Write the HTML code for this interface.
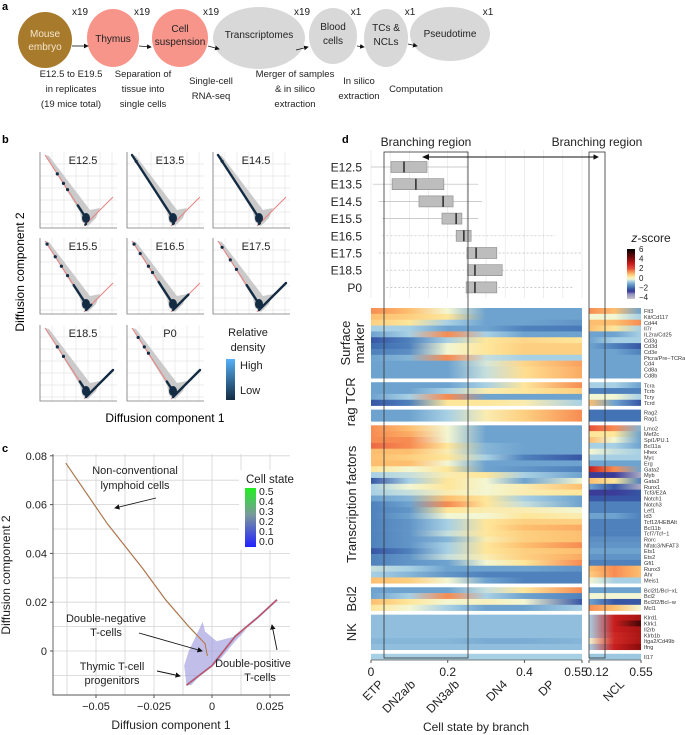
<!DOCTYPE html>
<html><head><meta charset="utf-8">
<style>
html,body{margin:0;padding:0;background:#fff;}
svg{display:block;font-family:"Liberation Sans",sans-serif;}
</style></head>
<body>
<svg id="fig" width="685" height="735" viewBox="0 0 685 735" xmlns="http://www.w3.org/2000/svg">
<defs>
<marker id="ah" markerWidth="6" markerHeight="6" refX="5" refY="3" orient="auto"><path d="M0,0 L6,3 L0,6 z" fill="#111"/></marker>
<linearGradient id="densGrad" x1="0" y1="0" x2="0" y2="1"><stop offset="0" stop-color="#56b1f7"/><stop offset="1" stop-color="#132b43"/></linearGradient>
<linearGradient id="stateGrad" x1="0" y1="0" x2="0" y2="1"><stop offset="0" stop-color="#22ee22"/><stop offset="0.45" stop-color="#7a9a9a"/><stop offset="1" stop-color="#2222ff"/></linearGradient>
</defs>

<g font-weight="bold" font-size="11" fill="#000">
<text x="2" y="10">a</text>
<text x="2" y="143">b</text>
<text x="2" y="452">c</text>
<text x="342" y="143">d</text>
</g>

<g id="panelA" font-size="10" text-anchor="middle" fill="#222">
<ellipse cx="45" cy="40" rx="27" ry="28" fill="#a87a2c"/>
<text x="45" y="37" fill="#f4e6cc">Mouse</text><text x="45" y="50" fill="#f4e6cc">embryo</text>
<ellipse cx="113" cy="38" rx="26" ry="29" fill="#f7958b"/>
<text x="113" y="42">Thymus</text>
<ellipse cx="180" cy="38" rx="28" ry="29" fill="#f7958b"/>
<text x="180" y="32">Cell</text><text x="180" y="45">suspension</text>
<ellipse cx="259" cy="38" rx="46" ry="31" fill="#d8d8d8"/>
<text x="259" y="38">Transcriptomes</text>
<ellipse cx="333" cy="36" rx="24" ry="28" fill="#d8d8d8"/>
<text x="333" y="30">Blood</text><text x="333" y="44">cells</text>
<ellipse cx="386" cy="38" rx="22" ry="29" fill="#d8d8d8"/>
<text x="386" y="31">TCs &amp;</text><text x="386" y="45">NCLs</text>
<ellipse cx="450" cy="34" rx="40" ry="27" fill="#d8d8d8"/>
<text x="450" y="37">Pseudotime</text>
<g font-size="10"><text x="80" y="15">x19</text><text x="142" y="15">x19</text><text x="211" y="15">x19</text><text x="302" y="15">x19</text><text x="356" y="15">x1</text><text x="410" y="15">x1</text><text x="488" y="15">x1</text></g>
<g stroke="#111" stroke-width="0.8" marker-end="url(#ah)">
<line x1="72" y1="46" x2="88" y2="46"/><line x1="139" y1="46" x2="151" y2="47"/><line x1="208" y1="46" x2="219" y2="49"/><line x1="296" y1="50" x2="308" y2="47"/><line x1="357" y1="46" x2="364" y2="47"/><line x1="408" y1="44" x2="417" y2="46"/>
</g>
<g font-size="9.5">
<text x="71" y="77">E12.5 to E19.5</text><text x="71" y="92">in replicates</text><text x="71" y="107">(19 mice total)</text>
<text x="143" y="77">Separation of</text><text x="143" y="92">tissue into</text><text x="143" y="107">single cells</text>
<text x="211" y="84">Single-cell</text><text x="211" y="99">RNA-seq</text>
<text x="295" y="77">Merger of samples</text><text x="295" y="92">&amp; in silico</text><text x="295" y="107">extraction</text>
<text x="359" y="84">In silico</text><text x="359" y="99">extraction</text>
<text x="416" y="92">Computation</text>
</g>
</g>

<g id="panelB"></g>
<text x="24" y="272" font-size="12" text-anchor="middle" transform="rotate(-90 24 272)">Diffusion component 2</text>
<text x="165" y="422" font-size="12" text-anchor="middle">Diffusion component 1</text>
<g font-size="11" fill="#222">
<text x="248" y="336" text-anchor="middle">Relative</text><text x="248" y="351" text-anchor="middle">density</text>
<rect x="226" y="359" width="9" height="41" fill="url(#densGrad)"/>
<text x="240" y="369">High</text><text x="240" y="394">Low</text>
</g>

<g id="panelC"></g>
<g id="panelD"></g>
</svg>

<script>
// ---------- Panel b data ----------
const facetNames = ["E12.5","E13.5","E14.5","E15.5","E16.5","E17.5","E18.5","P0"];
const facetNclDense = [0.2, 1.0, 1.0, 0.3, 0.35, 0.3, 0.15, 0.15];
const facetDpDense = [0.05, 0.1, 0.1, 0.25, 0.6, 1.0, 1.0, 1.0];
const facetNclDots = [[0.45,0.55,0.7],[0.9],[0.9],[0.45,0.6,0.75,0.95],[0.5,0.6,0.8,0.95],[0.55,0.7,0.9],[0.55,0.7],[0.6,0.7,0.85]];

// ---------- Panel c data ----------
const nclLineX = [-0.063,-0.045,-0.030,-0.020,-0.010,-0.003,-0.002];
const nclLineY = [0.077,0.052,0.034,0.021,0.010,0.003,-0.002];
const dpLineX = [-0.011,0.000,0.010,0.020,0.028];
const dpLineY = [-0.014,-0.006,0.006,0.014,0.021];
const cloudX = [-0.011,-0.012,-0.010,-0.007,-0.004,-0.003,0.002,0.010,0.015,0.010,0.003,-0.005,-0.009];
const cloudY = [-0.014,-0.006,0.0,0.006,0.012,0.008,0.004,0.006,0.009,0.004,-0.004,-0.010,-0.014];
const cXTicks = [-0.05,-0.025,0,0.025];
const cXTickLabels = ["\u22120.05","\u22120.025","0","0.025"];
const cYTicks = [0,0.02,0.04,0.06,0.08];
const cYTickLabels = ["0","0.02","0.04","0.06","0.08"];
const stateTicks = ["0.5","0.4","0.3","0.2","0.1","0.0"];

// ---------- Panel d data ----------
const boxSamples = ["E12.5","E13.5","E14.5","E15.5","E16.5","E17.5","E18.5","P0"];
const boxQ1 = [0.052,0.055,0.125,0.185,0.222,0.250,0.252,0.248];
const boxMed = [0.086,0.117,0.188,0.222,0.242,0.274,0.271,0.271];
const boxQ3 = [0.146,0.190,0.214,0.237,0.261,0.328,0.342,0.328];
const boxMin = [0.0,0.005,0.02,0.03,0.03,0.02,0.04,0.04];
const boxMax = [0.253,0.28,0.29,0.28,0.48,0.55,0.55,0.53];
const stateStops = [0,0.1,0.2,0.3,0.4,0.55];
const nclStops = [0.12,0.33,0.55];
const geneGroups = ["Surface marker","rag TCR","Transcription factors","Bcl2","NK",""];
const genes = [
["Flt3","Kit/Cd117","Cd44","Il7r","IL2ra/Cd25","Cd3g","Cd3d","Cd3e","Ptcra/Pre\u2212TCRa","Cd4","Cd8a","Cd8b"],
["Tcra","Tcrb","Tcry","Tcrd","Rag2","Rag1"],
["Lmo2","Mef2c","Spi1/PU.1","Bcl11a","Hhex","Myc","Erg","Gata2","Myb","Gata3","Runx1","Tcf3/E2A","Notch1","Notch3","Lef1","Id3","Tcf12/HEBAlt","Bcl11b","Tcf7/Tcf\u22121","Rorc","Nfatc3/NFAT3","Ets1","Ets2","Gfi1","Runx3","Ahr","Meis1"],
["Bcl2l1/Bcl\u2212xL","Bcl2","Bcl2l2/Bcl\u2212w","Mcl1"],
["Klrd1","Klrk1","Il2rb","Klrb1b","Itga2/Cd49b","Ifng"],
["Il17"]];
const zMain = [
[[1.5,1,0,-1,-1,-1],[1,0.8,0.5,-1,-1,-1],[0.8,0.5,-0.5,-1,-1,-1.2],[-0.5,-0.5,-1,-1,-1.5,-1.6],[-1,-0.5,1.5,-0.5,-1,-1],[-2,-1.5,-0.5,0.5,0.7,0.5],[-1.8,-1.5,0,0.5,0.8,0.8],[-1.5,-1.3,0,0.5,0.8,0.8],[-1,-0.8,1.5,-0.3,-0.5,-0.5],[-1,-1,-1,-0.2,0.7,1.3],[-1,-1,-1,-0.3,0.6,1.2],[-1,-1,-1,-0.3,0.6,1.2]],
[[-1,-1,-1,-0.5,0.5,1.5],[-1,-1,-0.5,0.3,0.5,0.8],[-1,-0.5,1.5,-1,-1,-1],[-2,-1.5,0.5,0.5,0.3,-0.5],[-1,-1,-0.5,0.3,0.8,1.5],[-1,-1,-0.5,0.3,0.8,1.5]],
[[1.5,1,0,-1,-1,-1],[1.5,1.2,0,-1,-1,-1],[1.5,1.5,0,-1,-1,-1],[1.8,1.5,0.5,-0.8,-1,-1],[1,1,0.3,-0.8,-1,-1],[1,0.8,0.5,-0.5,-1.5,-2],[1,1,0,-1,-1,-1],[0.5,0,0.5,-1,-1.2,-1.5],[-0.5,-0.3,0.3,0.5,-0.5,-1],[-2,-0.5,0.5,0,-1,0],[-0.5,0,0.5,0,0.3,1],[-0.5,-0.3,0.3,0,0.3,0.5],[-1,-0.8,1,0.5,-0.5,-1],[-1.5,-1,1.5,0.5,-0.3,-1],[-1.5,-1.2,0.5,0.3,0.3,0],[-1.5,-1,0,0,0.5,0.3],[-1.5,-1.2,-0.5,0.5,0.8,0.8],[-1.5,-1.2,-0.5,0.5,1,1.2],[-1.5,-1.2,-0.3,0.5,0.8,1],[-1.5,-1.2,-0.8,0.3,0.8,1],[-1.5,-1.2,-0.5,0.5,1,1.5],[-2,-1.5,-0.5,0.5,0.8,1],[-1.5,-1.2,-0.3,0.3,0.8,1.2],[-1.5,-1.2,-1,0,0.5,1.5],[-0.3,-0.5,-1,-1,-1,-1.2],[-0.5,-0.8,-1.2,-1.5,-1.5,-1.5],[1,0.8,0,-1,-1.5,-1.5]],
[[-1,-1,-1,-0.3,0.5,1.5],[-1,-0.5,1.5,-0.5,-1,-1.5],[1,0.5,0,0.2,0,-2],[0.5,0,-0.5,-1,-1,-0.5]],
[[-0.7,-0.7,-0.7,-0.7,-0.7,-0.7],[-0.7,-0.7,-0.7,-0.7,-0.7,-0.7],[-0.7,-0.7,-0.7,-0.7,-0.7,-0.7],[-0.7,-0.7,-0.7,-0.7,-0.7,-0.7],[-0.8,-0.8,-0.8,-0.9,-0.9,-0.8],[-0.7,-0.7,-0.7,-0.7,-0.7,-0.7]],
[[-0.5,-0.5,-0.5,-0.5,-0.5,-0.5]]];
const zNcl = [
[[1.5,1,-1],[0,0,-0.5],[1,1,1.5],[1,0.5,-0.5],[-1,-1,-0.5],[-1,-0.5,-0.5],[-1,-1.5,-2],[-1,-1,-1.5],[-1,-1,-1],[-1,-1,-1],[-1,-1,-1],[-1,-1,-1]],
[[-0.5,-0.5,-1],[-1.5,-1.5,-1.5],[0,0,-0.5],[1,-1,-2],[-1.7,-1.7,-1.7],[-1.7,-1.7,-1.7]],
[[2,1.5,-0.8],[0.5,0.5,-1],[1,0,-1],[-0.5,-0.5,-1],[0,-0.3,-0.5],[-0.5,-0.5,-0.5],[-1,-1,-1],[3,1.5,-1],[-2.5,-2.5,-3.5],[1,0.5,-1.5],[-1,-2,-3.5],[-2.5,-2.5,-2],[-2,-2,-2],[-1.5,-1.5,-1.5],[-1.5,-1.5,-1.5],[-1,-1,-1.5],[-1.5,-1.5,-1.5],[-1.5,-1.5,-1.5],[-1.5,-1.5,-1.5],[-1.3,-1.3,-1.3],[-1.2,-1.2,-1.2],[-1,-1,-1],[-1.2,-1.2,-1.2],[-1.5,-1.5,-1.5],[1,1.5,1],[0.8,1.5,1],[0,-0.5,-0.5]],
[[-1,-1,-1],[0,0,0],[-1,-2,-2],[1.5,1,0]],
[[-0.5,3,3.5],[-0.5,3,5],[-0.5,3,3.5],[-0.5,2.8,3.5],[0,2.8,3.5],[-0.5,3,4]],
[[-0.6,-0.6,-0.6]]];
const zLegendTicks = [6,4,2,0,-2,-4];
const dAxisTicks = [0,0.2,0.4,0.55];
const dAxisLabels = ["0","0.2","0.4","0.55"];
const nclAxisTicks = [0.12,0.55];
const stageLabels = ["ETP","DN2a/b","DN3a/b","DN4","DP","NCL"];

const NS="http://www.w3.org/2000/svg";
function mk(tag, attrs, parent){const e=document.createElementNS(NS,tag);for(const k in attrs)e.setAttribute(k,attrs[k]);parent.appendChild(e);return e;}

// ===== Panel b =====
(function(){
  const g=document.getElementById('panelB');
  const colX=[40,127,213], rowY=[152,238,325], W=77, H=76;
  facetNames.forEach((nm,i)=>{
    const ox=colX[i%3], oy=rowY[Math.floor(i/3)];
    const fg=mk('g',{},g);
    
    
    for(let k=1;k<7;k++){
      mk('line',{x1:ox+k*12,y1:oy,x2:ox+k*12,y2:oy+H,stroke:'#e4e4e4','stroke-width':0.7},fg);
      mk('line',{x1:ox,y1:oy+k*12,x2:ox+W,y2:oy+k*12,stroke:'#e4e4e4','stroke-width':0.7},fg);
    }
    mk('path',{d:`M${ox} ${oy} V${oy+H} H${ox+W}`,fill:'none',stroke:'#777','stroke-width':0.8},fg);
    const tip=[ox+5,oy+3], vtx=[ox+46,oy+66], dps=[ox+44,oy+74], dpt=[ox+73,oy+45];
    mk('path',{d:`M${tip[0]} ${tip[1]} L${ox+9} ${oy+4} L${ox+50} ${oy+58} L${ox+60} ${oy+56} L${ox+56} ${oy+66} L${ox+48} ${oy+74} L${ox+42} ${oy+70} L${ox+40} ${oy+60} Z`,fill:'#cacaca'},fg);
    mk('line',{x1:tip[0],y1:tip[1],x2:vtx[0],y2:vtx[1],stroke:'#e88080','stroke-width':1},fg);
    mk('line',{x1:dps[0],y1:dps[1],x2:dpt[0],y2:dpt[1],stroke:'#e88080','stroke-width':1},fg);
    const nd=facetNclDense[i];
    mk('line',{x1:vtx[0],y1:vtx[1],x2:vtx[0]+(tip[0]-vtx[0])*nd,y2:vtx[1]+(tip[1]-vtx[1])*nd,stroke:'#132b43','stroke-width':2.4,'stroke-linecap':'round'},fg);
    const dd=facetDpDense[i];
    mk('line',{x1:dps[0]+2,y1:dps[1]-2,x2:dps[0]+(dpt[0]-dps[0])*dd,y2:dps[1]+(dpt[1]-dps[1])*dd,stroke:'#132b43','stroke-width':2.4,'stroke-linecap':'round'},fg);
    mk('ellipse',{cx:ox+46,cy:oy+66,rx:4,ry:5,fill:'#132b43'},fg);
    facetNclDots[i].forEach(t=>{
      mk('circle',{cx:vtx[0]+(tip[0]-vtx[0])*t,cy:vtx[1]+(tip[1]-vtx[1])*t,r:1.6,fill:'#132b43'},fg);
    });
    const tt=mk('text',{x:ox+43,y:oy+12,'font-size':11,'text-anchor':'middle',fill:'#222'},fg);
    tt.textContent=nm;
    
    
  });
})();

// ===== Panel c =====
(function(){
  const g=document.getElementById('panelC');
  const L=53,R=290,T=454,B=695;
  const sx=v=>212+v*2320, sy=v=>651-v*2440;
  for(let v=-0.0625;v<=0.03;v+=0.0125){mk('line',{x1:sx(v),y1:T,x2:sx(v),y2:B,stroke:'#d4d4d4','stroke-width':0.8},g);}
  for(let v=-0.01;v<=0.08;v+=0.01){mk('line',{x1:L,y1:sy(v),x2:R,y2:sy(v),stroke:'#d4d4d4','stroke-width':0.8},g);}
  const ax=mk('path',{d:`M${L} ${T} V${B} H${R}`,fill:'none',stroke:'#555','stroke-width':0.9},g);
  
  
  cXTicks.forEach((v,i)=>{
    mk('line',{x1:sx(v),y1:B,x2:sx(v),y2:B+3,stroke:'#555'},g);
    const t=mk('text',{x:sx(v),y:B+15,'font-size':11,'text-anchor':'middle',fill:'#222'},g);t.textContent=cXTickLabels[i];
    
    
  });
  cYTicks.forEach((v,i)=>{
    mk('line',{x1:L-3,y1:sy(v),x2:L,y2:sy(v),stroke:'#555'},g);
    const t=mk('text',{x:L-6,y:sy(v)+4,'font-size':11,'text-anchor':'end',fill:'#222'},g);t.textContent=cYTickLabels[i];
    
    
  });
  const cp=mk('polygon',{points:cloudX.map((x,i)=>sx(x)+','+sy(cloudY[i])).join(' '),fill:'#9893dc',opacity:0.6},g);
  
  
  const nl=mk('polyline',{points:nclLineX.map((x,i)=>sx(x)+','+sy(nclLineY[i])).join(' '),fill:'none',stroke:'#8ccc8c','stroke-width':1.4},g);
  
  
  mk('polyline',{points:nclLineX.map((x,i)=>sx(x)+','+sy(nclLineY[i])).join(' '),fill:'none',stroke:'#ee3333','stroke-width':0.6},g);
  const dl=mk('polyline',{points:dpLineX.map((x,i)=>sx(x)+','+sy(dpLineY[i])).join(' '),fill:'none',stroke:'#7a9fb0','stroke-width':2},g);
  
  
  mk('polyline',{points:dpLineX.map((x,i)=>sx(x)+','+sy(dpLineY[i])).join(' '),fill:'none',stroke:'#ee3355','stroke-width':1},g);
  const yt=mk('text',{x:10,y:575,'font-size':12,'text-anchor':'middle',transform:'rotate(-90 10 575)',fill:'#222'},g);yt.textContent='Diffusion component 2';
  
  
  const xt=mk('text',{x:171,y:729,'font-size':12,'text-anchor':'middle',fill:'#222'},g);xt.textContent='Diffusion component 1';
  
  
  const lg=mk('g',{},g);
  
  
  mk('rect',{x:239,y:470,width:52,height:80,fill:'#fff'},lg);
  const lt=mk('text',{x:246,y:483,'font-size':11.5,fill:'#222'},lg);lt.textContent='Cell state';
  mk('rect',{x:245,y:488,width:11,height:59,fill:'url(#stateGrad)'},lg);
  stateTicks.forEach((s,i)=>{const t=mk('text',{x:259,y:495+i*10,'font-size':10.5,fill:'#222'},lg);t.textContent=s;});
  const ann=[[135,474,'Non-conventional'],[135,489,'lymphoid cells'],[106,622,'Double-negative'],[106,636,'T-cells'],[112,670,'Thymic T-cell'],[112,684,'progenitors'],[253,667,'Double-positive'],[260,681,'T-cells']];
  ann.forEach(a=>{const t=mk('text',{x:a[0],y:a[1],'font-size':11,'text-anchor':'middle',fill:'#222'},g);t.textContent=a[2];
    
    });
  [[156,498,115,508],[139,633,202,651],[157,671,180,676],[277,650,272,625]].forEach(a=>{
    mk('line',{x1:a[0],y1:a[1],x2:a[2],y2:a[3],stroke:'#111','stroke-width':0.9,'marker-end':'url(#ah)'},g);
  });
})();

// ===== Panel d =====
(function(){
  const g=document.getElementById('panelD');
  const x0=371, sc=383.6, sx=v=>x0+v*sc;
  const nx0=589, nsc=(641-589)/(0.55-0.12), nx=v=>nx0+(v-0.12)*nsc;
  const cmapV=[-4,-3,-2.4,-1.8,-1,-0.5,0,0.5,1,1.5,2,3,4,6];
  const cmapC=['#c6c6c6','#8e8ec2','#2a2a90','#3d6cb0','#6ea3cf','#a8d0e4','#f3f6d2','#fee69a','#fdbf6f','#f78c52','#e6523a','#c81e1e','#8a0c0c','#000000'];
  function hex2(c){return [1,3,5].map(i=>parseInt(c.substr(i,2),16));}
  function cmap(z){
    if(z<=cmapV[0])return cmapC[0];
    for(let i=1;i<cmapV.length;i++){if(z<=cmapV[i]){const t=(z-cmapV[i-1])/(cmapV[i]-cmapV[i-1]);const a=hex2(cmapC[i-1]),b=hex2(cmapC[i]);return 'rgb('+a.map((v,k)=>Math.round(v+(b[k]-v)*t)).join(',')+')';}}
    return cmapC[cmapC.length-1];
  }
  const defs=document.querySelector('defs');
  for(let v=0;v<=0.55;v+=0.05){mk('line',{x1:sx(v),y1:150,x2:sx(v),y2:298,stroke:'#e6e6e6','stroke-width':0.7},g);}
  const bRowY=i=>167+i*17.2;
  boxSamples.forEach((s,i)=>{
    const y=bRowY(i);
    const bg=mk('g',{},g);
    
    
    mk('line',{x1:sx(boxMin[i]),y1:y,x2:sx(boxMax[i]),y2:y,stroke:'#bbb','stroke-width':0.7,'stroke-dasharray':i>=4?'2 2':'none'},bg);
    mk('rect',{x:sx(boxQ1[i]),y:y-5.5,width:sx(boxQ3[i])-sx(boxQ1[i]),height:11,fill:'#bdbdbd',stroke:'#888','stroke-width':0.6},bg);
    mk('line',{x1:sx(boxMed[i]),y1:y-5.5,x2:sx(boxMed[i]),y2:y+5.5,stroke:'#333','stroke-width':1.6},bg);
    const t=mk('text',{x:362,y:y+4.5,'font-size':12,'text-anchor':'end',fill:'#222'},g);t.textContent=s;
    
    
  });
  let y=308; const rh=5.85; let gid=0;
  const groupStarts=[];
  genes.forEach((grp,gi)=>{
    const gs=y;
    grp.forEach((gn,ri)=>{
      const zm=zMain[gi][ri], zn=zNcl[gi][ri];
      const id1='hg'+(gid++), id2='hg'+(gid++);
      const lg1=mk('linearGradient',{id:id1,x1:0,y1:0,x2:1,y2:0},defs);
      zm.forEach((z,k)=>mk('stop',{offset:stateStops[k]/0.55,'stop-color':cmap(z)},lg1));
      const lg2=mk('linearGradient',{id:id2,x1:0,y1:0,x2:1,y2:0},defs);
      zn.forEach((z,k)=>mk('stop',{offset:(nclStops[k]-0.12)/0.43,'stop-color':cmap(z)},lg2));
      const r1=mk('rect',{x:sx(0),y:y,width:sx(0.55)-sx(0),height:rh+0.3,fill:'url(#'+id1+')'},g);
      
      
      const r2=mk('rect',{x:nx(0.12),y:y,width:nx(0.55)-nx(0.12),height:rh+0.3,fill:'url(#'+id2+')'},g);
      
      
      const t=mk('text',{x:644,y:y+rh-0.8,'font-size':5.6,fill:'#333'},g);t.textContent=gn;
      
      
      y+=rh;
      if(gi===1&&ri===3) y+=4;
    });
    groupStarts.push([gs,y]);
    y+=4;
  });
  const gl=[[[350,364],'Surface','marker'],[[355],'rag TCR'],[[356],'Transcription factors'],[[356],'Bcl2'],[[356],'NK']];
  gl.forEach((d,i)=>{
    const cy=(groupStarts[i][0]+groupStarts[i][1])/2;
    const lines=d.slice(1);
    lines.forEach((txt,k)=>{
      const xx=d[0][k];
      const t=mk('text',{x:xx,y:cy,'font-size':13,'text-anchor':'middle',transform:`rotate(-90 ${xx} ${cy})`,fill:'#222'},g);
      t.textContent=txt;
      
      
    });
  });
  mk('rect',{x:384,y:152,width:84,height:506,fill:'none',stroke:'#333','stroke-width':0.8},g);
  mk('rect',{x:589,y:152,width:16,height:506,fill:'none',stroke:'#333','stroke-width':0.8},g);
  mk('line',{x1:424,y1:157,x2:598,y2:157,stroke:'#111','stroke-width':0.9,'marker-end':'url(#ah)'},g);
  mk('polygon',{points:'422,157 429,154 429,160',fill:'#111'},g);
  [[426,'Branching region'],[597,'Branching region']].forEach(b=>{
    const t=mk('text',{x:b[0],y:146,'font-size':12,'text-anchor':'middle',fill:'#222'},g);t.textContent=b[1];
    
    
  });
  mk('line',{x1:sx(0),y1:660,x2:sx(0.55),y2:660,stroke:'#555','stroke-width':0.8},g);
  mk('line',{x1:nx(0.12),y1:660,x2:nx(0.55),y2:660,stroke:'#555','stroke-width':0.8},g);
  dAxisTicks.forEach((v,i)=>{
    mk('line',{x1:sx(v),y1:660,x2:sx(v),y2:663,stroke:'#555'},g);
    const t=mk('text',{x:sx(v)-(i===3?6:0),y:676,'font-size':12,'text-anchor':'middle',fill:'#222'},g);t.textContent=dAxisLabels[i];
    
    
  });
  nclAxisTicks.forEach((v,i)=>{
    mk('line',{x1:nx(v),y1:660,x2:nx(v),y2:663,stroke:'#555'},g);
    const t=mk('text',{x:nx(v)+(i===0?8:0),y:676,'font-size':12,'text-anchor':'middle',fill:'#222'},g);t.textContent=String(v);
    
    
  });
  const stX=[384,416,460,508,555,625], stY=[685,685,685,685,685,685];
  stageLabels.forEach((s,i)=>{
    const t=mk('text',{x:stX[i],y:stY[i],'font-size':12,'text-anchor':'end',transform:`rotate(-45 ${stX[i]} ${stY[i]})`,fill:'#222'},g);t.textContent=s;
    
    
  });
  const xt=mk('text',{x:476,y:731,'font-size':12,'text-anchor':'middle',fill:'#222'},g);xt.textContent='Cell state by branch';
  
  
  const zg=mk('g',{},g);
  
  
  const zt=mk('text',{x:651,y:242,'font-size':12,'text-anchor':'middle',fill:'#222'},zg);
  const zi=mk('tspan',{'font-style':'italic'},zt); zi.textContent='z';
  const zr=mk('tspan',{},zt); zr.textContent='-score';
  const zgr=mk('linearGradient',{id:'zGrad',x1:0,y1:0,x2:0,y2:1},defs);
  for(let k=0;k<=20;k++){const z=6-k*0.5;mk('stop',{offset:k/20,'stop-color':cmap(z)},zgr);}
  mk('rect',{x:627,y:249,width:8,height:50,fill:'url(#zGrad)'},zg);
  zLegendTicks.forEach((v,i)=>{const t=mk('text',{x:639,y:252+i*9.6,'font-size':8,fill:'#222'},zg);t.textContent=v<0?'\u2212'+(-v):String(v);});
})();
</script>
</body></html>
